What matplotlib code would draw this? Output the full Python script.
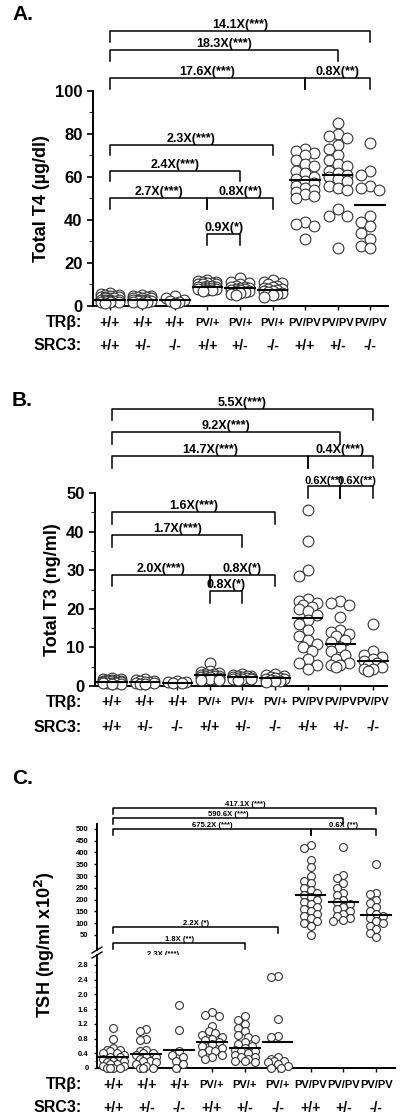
import numpy as np
import matplotlib
matplotlib.use("Agg")
import matplotlib.pyplot as plt
import matplotlib.transforms as mtrans

plt.rcParams["font.family"] = ["Liberation Sans", "DejaVu Sans"]
plt.rcParams["font.weight"] = "bold"

W, H = 407, 1120
TRB = ["+/+", "+/+", "+/+", "PV/+", "PV/+", "PV/+", "PV/PV", "PV/PV", "PV/PV"]
SRC3 = ["+/+", "+/-", "-/-", "+/+", "+/-", "-/-", "+/+", "+/-", "-/-"]

# ── Panel A: Total T4 (ug/dl) ────────────────────────────────────────────────
t4 = [
    [6, 5.5, 5, 5, 4.5, 4.5, 4, 4, 4, 3.5, 3.5, 3.5, 3, 3, 3, 3, 2.5, 2.5, 2.5, 2, 2, 2, 1.5],
    [5, 4.5, 4.5, 4, 4, 3.5, 3.5, 3.5, 3, 3, 3, 3, 2.5, 2.5, 2.5, 2, 2, 1.5],
    [4.5, 3.5, 3, 2.5, 2, 1.5],
    [12, 11.5, 11, 11, 10.5, 10.5, 10, 10, 10, 9.5, 9.5, 9, 9, 9, 8.5, 8.5, 8, 8, 8, 7.5, 7.5, 7],
    [13, 11, 10.5, 10, 9.5, 9, 9, 8.5, 8.5, 8, 8, 7.5, 7.5, 7, 7, 6.5, 6, 5.5, 5],
    [12, 11, 10.5, 10, 9.5, 9, 8.5, 8, 8, 7.5, 7, 7, 6.5, 6, 5.5, 5, 4],
    [73, 72, 71, 70, 68, 66, 65, 63, 62, 60, 59, 58, 57, 56, 55, 54, 53, 52, 51, 50, 39, 38, 37, 31],
    [85, 80, 79, 78, 75, 73, 70, 68, 66, 65, 63, 62, 61, 60, 59, 58, 56, 55, 54, 45, 42, 42, 27],
    [76, 63, 61, 56, 55, 54, 42, 39, 37, 34, 31, 28, 27],
]
t4_mean = [3.0, 3.0, 2.8, 9.0, 8.3, 7.5, 58.7, 60.7, 47.0]
t4_brackets = [  # (x1, x2, y, leftleg, rightleg, label)
    (1, 9, 128, 5, 5, "14.1X(***)"),
    (1, 8, 119, 5, 5, "18.3X(***)"),
    (1, 7, 106, 5, 5, "17.6X(***)"),
    (7, 9, 106, 5, 5, "0.8X(**)"),
    (1, 6, 75, 5, 5, "2.3X(***)"),
    (1, 5, 63, 5, 5, "2.4X(***)"),
    (1, 4, 50, 5, 5, "2.7X(***)"),
    (4, 6, 50, 5, 5, "0.8X(**)"),
    (4, 5, 33.5, 5, 5, "0.9X(*)"),
]

# ── Panel B: Total T3 (ng/ml) ────────────────────────────────────────────────
t3 = [
    [2, 1.8, 1.7, 1.6, 1.5, 1.5, 1.4, 1.3, 1.2, 1.2, 1.1, 1.0, 1.0, 0.9, 0.8, 0.8, 0.7, 0.6, 0.5],
    [1.8, 1.6, 1.4, 1.2, 1.0, 1.0, 0.9, 0.8, 0.6, 0.5],
    [1.2, 1.1, 1.0, 0.9, 0.8],
    [6, 3.8, 3.5, 3.3, 3.2, 3.0, 2.9, 2.8, 2.7, 2.6, 2.5, 2.4, 2.3, 2.2, 2.0, 1.9, 1.8, 1.6, 1.5],
    [3.0, 2.8, 2.7, 2.6, 2.5, 2.4, 2.3, 2.2, 2.1, 2.0, 1.9, 1.8, 1.7, 1.5],
    [3.2, 2.8, 2.6, 2.4, 2.2, 2.0, 1.9, 1.8, 1.6, 1.4, 1.2, 1.0],
    [45.7, 37.6, 30, 28.5, 22.5, 22, 21.5, 21, 20.5, 20, 19.5, 18.5, 17, 16, 14.5, 13,
     12, 11, 10, 9, 7, 6, 5.5, 4.5],
    [22, 21.5, 21, 18, 14.5, 14, 13.5, 13, 12, 11.5, 10, 9, 8, 7, 6, 5.5, 5.5, 5],
    [16, 9, 8, 7.5, 7, 6.5, 6, 5.5, 5, 4.5, 4.5, 4],
]
t3_mean = [1.1, 1.0, 0.9, 2.8, 2.3, 2.0, 17.7, 11.0, 6.4]
t3_brackets = [
    (1, 9, 71.8, 3, 3, "5.5X(***)"),
    (1, 8, 65.8, 3, 3, "9.2X(***)"),
    (1, 7, 59.6, 3, 3, "14.7X(***)"),
    (7, 9, 59.6, 3, 3, "0.4X(***)"),
    (7, 8, 51.8, 3, 3, "0.6X(**)"),
    (8, 9, 51.8, 3, 3, "0.6X(**)"),
    (1, 6, 45, 3, 3, "1.6X(***)"),
    (1, 5, 39, 3, 3, "1.7X(***)"),
    (1, 4, 28.8, 3, 3, "2.0X(***)"),
    (4, 6, 28.8, 3, 3, "0.8X(*)"),
    (4, 5, 24.6, 3, 3, "0.8X(*)"),
]

# ── Panel C: TSH (ng/ml x10^2), broken axis ──────────────────────────────────
tsh_low = [
    [1.1, 0.8, 0.55, 0.5, 0.5, 0.45, 0.4, 0.4, 0.35, 0.3, 0.3, 0.25, 0.2, 0.2, 0.15, 0.1,
     0.1, 0.05, 0.05, 0.0, 0.0, 0.0, 0.0],
    [1.05, 1.0, 0.8, 0.75, 0.5, 0.45, 0.4, 0.4, 0.35, 0.3, 0.3, 0.25, 0.2, 0.2, 0.15, 0.1,
     0.05, 0.0, 0.0, 0.0],
    [1.7, 1.03, 0.45, 0.35, 0.3, 0.2, 0.1, 0.0],
    [1.52, 1.45, 1.4, 1.15, 1.0, 0.95, 0.9, 0.85, 0.8, 0.75, 0.7, 0.65, 0.6, 0.55, 0.5,
     0.45, 0.4, 0.35, 0.3, 0.25],
    [1.4, 1.3, 1.2, 1.1, 1.0, 0.9, 0.85, 0.8, 0.7, 0.65, 0.6, 0.55, 0.5, 0.45, 0.45, 0.4,
     0.35, 0.3, 0.3, 0.25, 0.2, 0.2, 0.15],
    [2.5, 2.48, 1.33, 0.88, 0.85, 0.3, 0.25, 0.2, 0.2, 0.15, 0.1, 0.05, 0.0, 0.0],
]
tsh_low_mean = [0.3, 0.37, 0.48, 0.7, 0.53, 0.7]
tsh_high = [
    [430, 420, 370, 340, 300, 280, 270, 250, 240, 230, 220, 210, 200, 190, 180, 170, 160,
     150, 140, 130, 120, 110, 100, 90, 50],
    [425, 305, 290, 270, 250, 230, 220, 200, 190, 180, 170, 160, 150, 140, 130, 120, 115, 110],
    [350, 230, 225, 200, 185, 170, 150, 140, 130, 120, 110, 100, 90, 75, 60, 40],
]
tsh_high_mean = [220, 190, 133]
tsh_brackets = [  # in upper-axis units
    (1, 9, 590, 25, 25, "417.1X (***)"),
    (1, 8, 545, 25, 25, "590.6X (***)"),
    (1, 7, 500, 25, 25, "675.2X (***)"),
    (7, 9, 500, 25, 25, "0.6X (**)"),
    (1, 6, 84, 25, 25, "2.2X (*)"),
    (1, 5, 16, 25, 25, "1.8X (**)"),
    (1, 4, -48, 25, 25, "2.3X (***)"),
]


def box(l, t, r, b):
    return [l / W, 1 - b / H, (r - l) / W, (b - t) / H]


def swarm(ax, x0, vals, diam, ms, maxoff=13):
    # simple beeswarm in pixel space, capped width so dense groups overlap
    vals = np.asarray(vals, float)
    pix = ax.transData.transform(np.column_stack([np.full(len(vals), x0), vals]))
    cands = [0.0]
    step = diam * 0.45
    k = 1
    while k * step <= maxoff:
        cands += [-k * step, k * step]
        k += 1
    placed, xs = [], []
    for px, py in pix:
        best, bestd = 0.0, -1
        for off in cands:
            d = min([np.hypot(off - ox, py - oy) for ox, oy in placed] + [1e9])
            if d >= diam * 0.8:
                best = off
                break
            if d > bestd:
                best, bestd = off, d
        placed.append((best, py))
        xs.append(px + best)
    dx = ax.transData.inverted().transform(np.column_stack([xs, pix[:, 1]]))[:, 0]
    ax.scatter(dx, vals, s=ms, facecolor="white", edgecolor="#333333", lw=0.8,
               zorder=3, clip_on=False)


def means(ax, m, xs, half=0.45):
    for x, v in zip(xs, m):
        ax.plot([x - half, x + half], [v, v], color="black", lw=1.5, zorder=4, clip_on=False)


def brackets(ax, items, fs):
    for x1, x2, y, l1, l2, lab in items:
        ax.plot([x1, x1, x2, x2], [y - l1, y, y, y - l2], color="black", lw=1.1, clip_on=False)
        f = fs - 1 if (x2 - x1) == 1 and ax.get_ylim()[1] == 50 and y > 50 else fs
        ax.text((x1 + x2) / 2, y, lab, ha="center", va="bottom", fontsize=f,
                fontweight="bold", clip_on=False)


def genotypes(fig, ax, y1, y2, fs=10):
    tr = mtrans.blended_transform_factory(ax.transData, fig.transFigure)
    for i in range(9):
        ax.text(i + 1, 1 - y1 / H, TRB[i], transform=tr, ha="center", va="center",
                fontsize=fs if "PV" not in TRB[i] else fs - 2, fontweight="bold")
        ax.text(i + 1, 1 - y2 / H, SRC3[i], transform=tr, ha="center", va="center",
                fontsize=fs, fontweight="bold")
    fig.text(82 / W, 1 - y1 / H, "TRβ:", ha="right", va="center", fontsize=11.5, fontweight="bold")
    fig.text(82 / W, 1 - y2 / H, "SRC3:", ha="right", va="center", fontsize=11.5, fontweight="bold")


def style(ax, xl):
    ax.set_xlim(*xl)
    ax.spines[["top", "right"]].set_visible(False)
    ax.set_xticks(range(1, 10))
    ax.set_xticklabels([])
    ax.tick_params(axis="x", length=3, width=1)
    ax.tick_params(axis="y", labelsize=12, width=1.2, length=4)
    for s in ("left", "bottom"):
        ax.spines[s].set_linewidth(1.4)


fig = plt.figure(figsize=(W / 100, H / 100), dpi=100)
xs = list(range(1, 10))

# A
axA = fig.add_axes(box(93, 91, 388, 306))
style(axA, (0.48, 9.55))
axA.set_ylim(0, 100)
axA.set_yticks(range(0, 101, 20))
axA.set_yticks(range(10, 100, 20), minor=True)
axA.tick_params(axis="y", which="minor", length=3)
for x, v in zip(xs, t4):
    swarm(axA, x, v, 10, 60)
means(axA, t4_mean, xs)
brackets(axA, t4_brackets, 9)
axA.set_ylabel("Total T4 (µg/dl)", fontsize=13, fontweight="bold", labelpad=4)
genotypes(fig, axA, 323, 346)
fig.text(12 / W, 1 - 14 / H, "A.", fontsize=15, fontweight="bold", va="center")

# B
axB = fig.add_axes(box(95, 493, 387, 686))
style(axB, (0.48, 9.43))
axB.set_ylim(0, 50)
axB.set_yticks(range(0, 51, 10))
axB.set_yticks(range(5, 50, 10), minor=True)
axB.tick_params(axis="y", which="minor", length=3)
for x, v in zip(xs, t3):
    swarm(axB, x, v, 10, 60)
means(axB, t3_mean, xs)
brackets(axB, t3_brackets, 9)
axB.set_ylabel("Total T3 (ng/ml)", fontsize=13, fontweight="bold", labelpad=4)
genotypes(fig, axB, 702, 727)
fig.text(12 / W, 1 - 400 / H, "B.", fontsize=15, fontweight="bold", va="center")

# C
axCt = fig.add_axes(box(97, 824, 395, 950))
axCb = fig.add_axes(box(97, 955, 395, 1068))
for ax in (axCt, axCb):
    style(ax, (0.5, 9.57))
    ax.tick_params(axis="y", labelsize=5.5, length=2.5, width=1)
axCt.spines["bottom"].set_visible(False)
axCt.tick_params(axis="x", bottom=False)
axCt.set_ylim(-14, 521)
axCt.set_yticks(range(50, 501, 50))
axCb.set_ylim(0, 3.07)
axCb.set_yticks(np.arange(0, 2.81, 0.4))
axCb.set_yticklabels(["0"] + [f"{v:.1f}" for v in np.arange(0.4, 2.81, 0.4)])
axCb.set_yticks(np.arange(0.2, 2.9, 0.4), minor=True)
axCb.tick_params(axis="y", which="minor", length=1.5)
for x, v in zip(xs[:6], tsh_low):
    swarm(axCb, x, v, 7.5, 32)
means(axCb, tsh_low_mean, xs[:6])
for x, v in zip(xs[6:], tsh_high):
    swarm(axCt, x, v, 7.5, 32)
means(axCt, tsh_high_mean, xs[6:])
brackets(axCt, tsh_brackets, 5.5)
# break marks
for yy in (950, 955):
    fig.add_artist(plt.Line2D([92 / W, 102 / W], [1 - (yy + 3) / H, 1 - (yy - 3) / H],
                              color="black", lw=1))
fig.text(45 / W, 1 - 945 / H, "TSH (ng/ml x10$^{\\mathbf{2}}$)", rotation=90, ha="center",
         va="center", fontsize=13, fontweight="bold")
genotypes(fig, axCb, 1085, 1108)
fig.text(12 / W, 1 - 778 / H, "C.", fontsize=15, fontweight="bold", va="center")

fig.savefig("out.png", dpi=100)
